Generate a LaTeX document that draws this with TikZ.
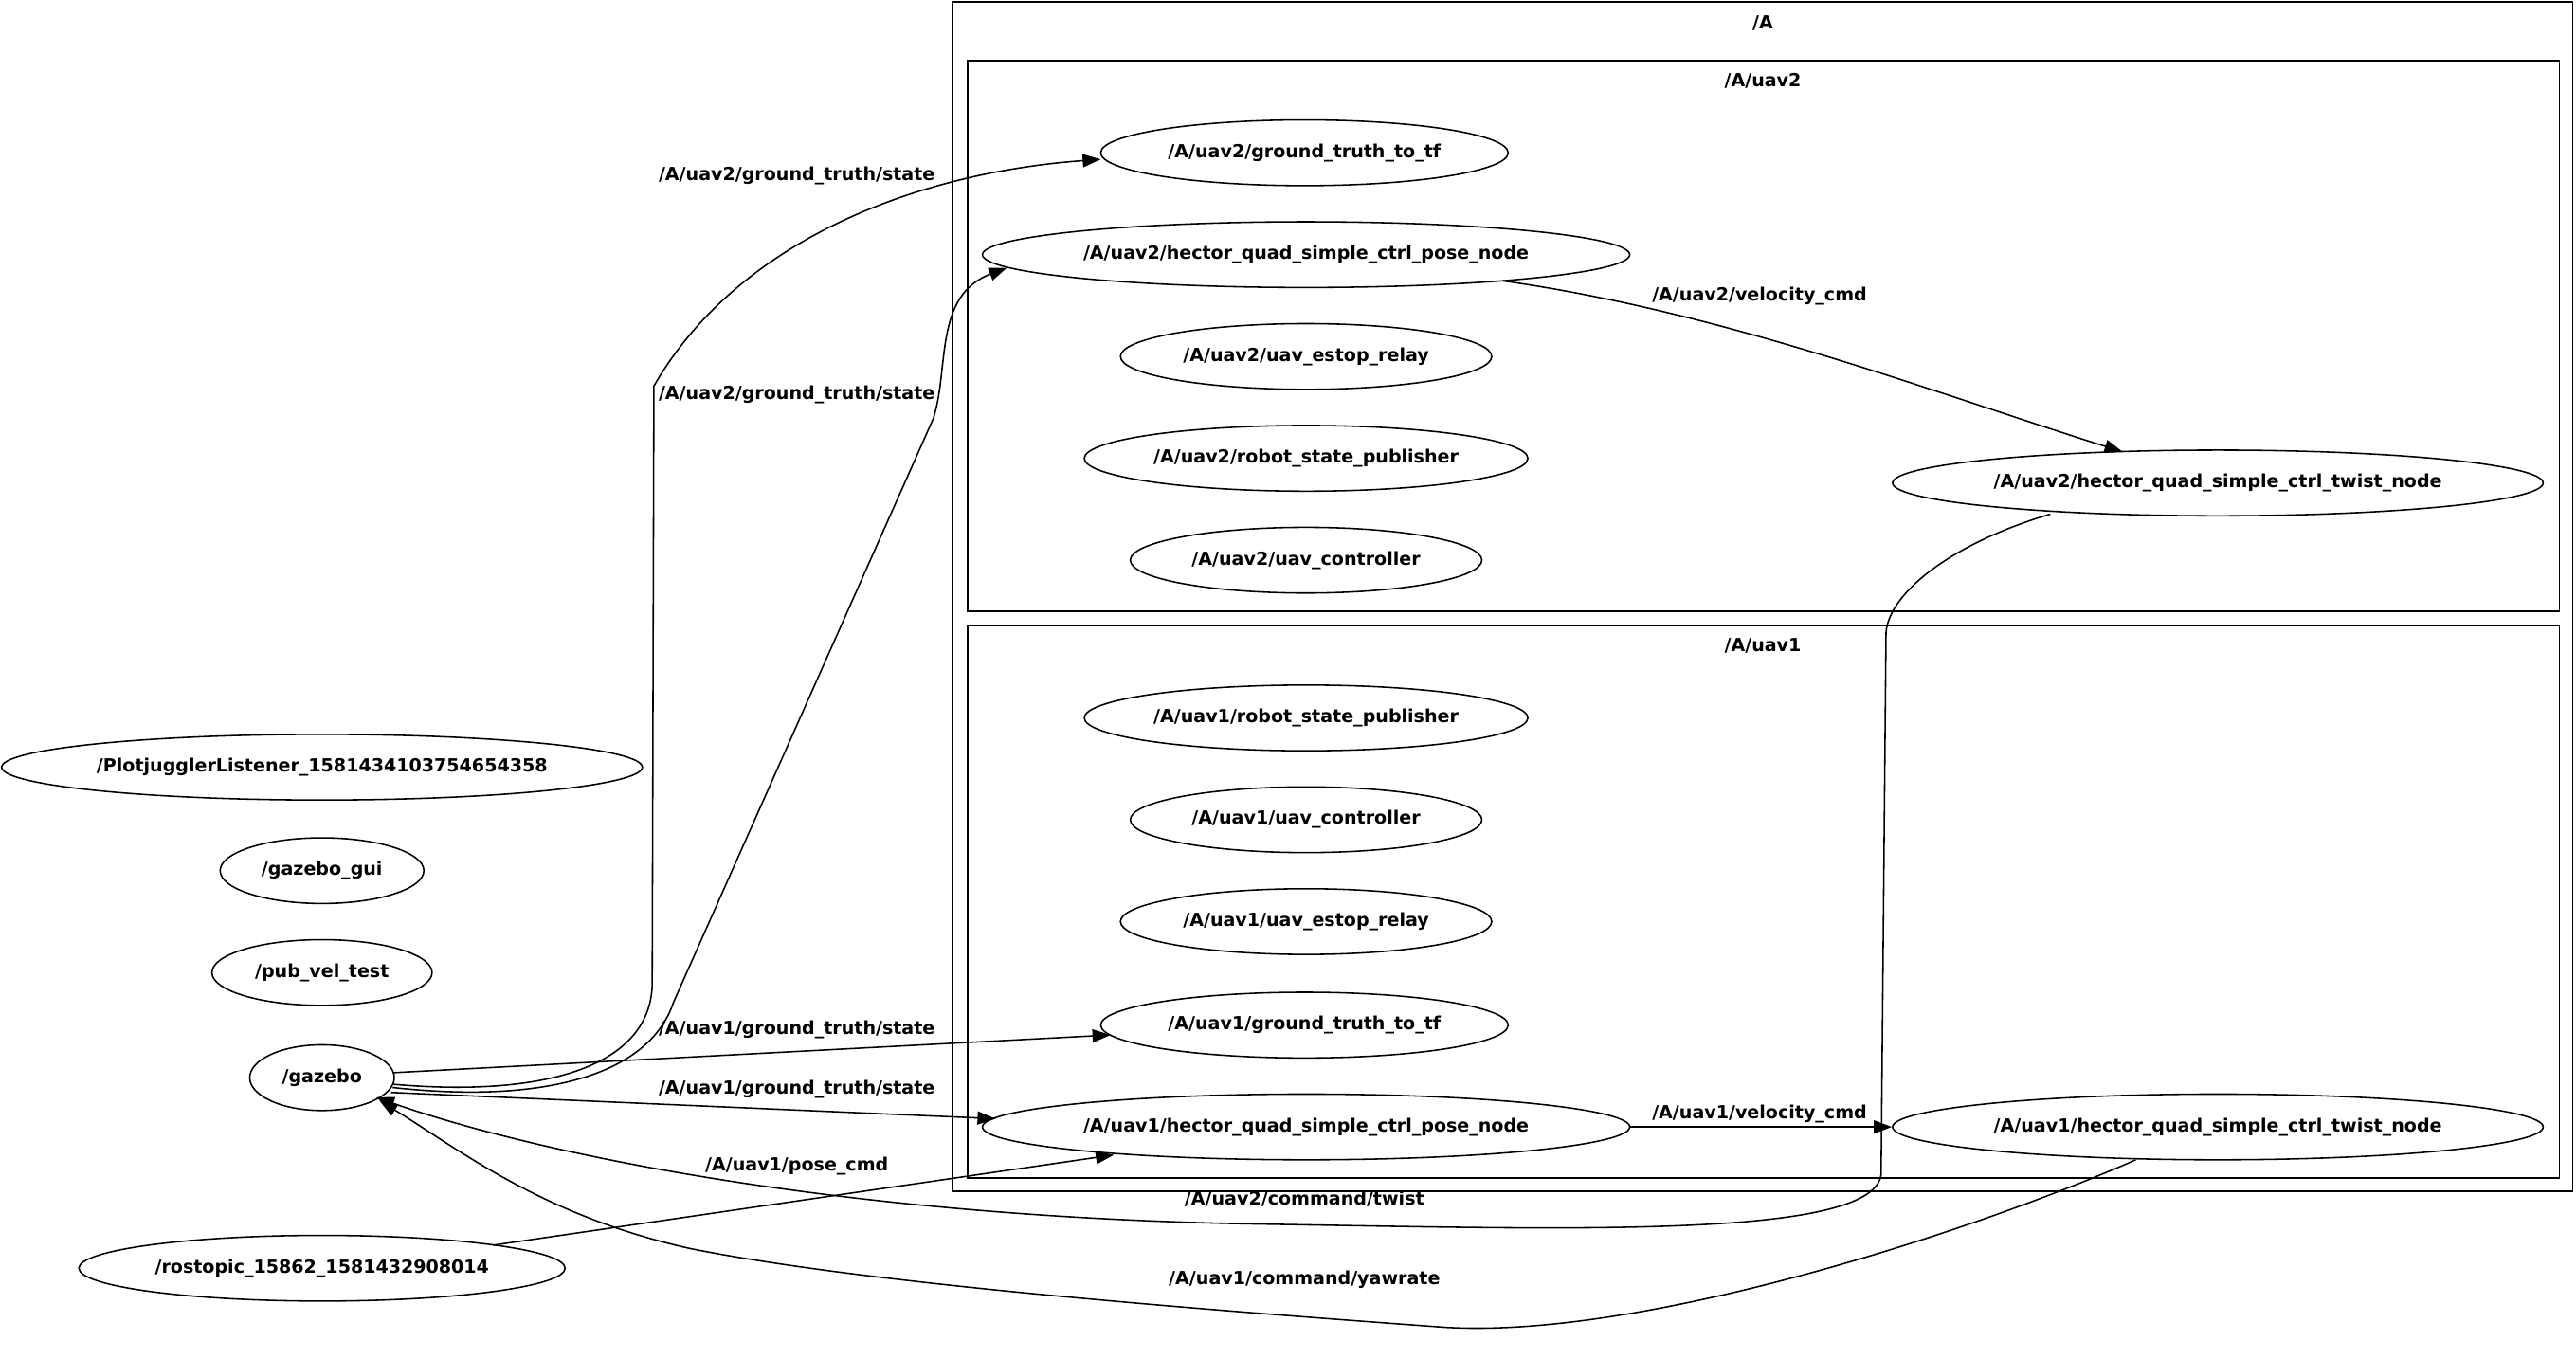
\documentclass[tikz,border=0pt]{standalone}
\usepackage{fontspec}
\setmainfont{DejaVu Sans}
\usetikzlibrary{shapes.geometric,arrows.meta,calc}
\begin{document}
\begin{tikzpicture}[x=1pt,y=-1pt,
  nd/.style={draw,ellipse,minimum height=40pt,inner sep=0pt,line width=0.9pt,font=\bfseries\fontsize{11}{12}\selectfont},
  cl/.style={draw,line width=0.9pt},
  lb/.style={font=\bfseries\fontsize{11}{12}\selectfont},
  ed/.style={-{Triangle[length=11pt,width=8pt]},line width=0.9pt}]
\useasboundingbox (0,0) rectangle (1568,827);
\draw[cl] (580,1) rectangle (1566,725);
\node[lb] (lA) at (1073,14) {/A};
\draw[cl] (589,37) rectangle (1558,372);
\node[lb] (lA2) at (1073,49) {/A/uav2};
\draw[cl] (589,381) rectangle (1558,717);
\node[lb] (lA1) at (1073,393) {/A/uav1};

\node[nd,minimum width=248pt] (g2) at (794,93) {/A/uav2/ground\_truth\_to\_tf};
\node[nd,minimum width=394pt] (p2) at (795,155) {/A/uav2/hector\_quad\_simple\_ctrl\_pose\_node};
\node[nd,minimum width=226pt] (e2) at (795,217) {/A/uav2/uav\_estop\_relay};
\node[nd,minimum width=270pt] (r2) at (795,279) {/A/uav2/robot\_state\_publisher};
\node[nd,minimum width=214pt] (c2) at (795,341) {/A/uav2/uav\_controller};
\node[nd,minimum width=396pt] (t2) at (1350,294) {/A/uav2/hector\_quad\_simple\_ctrl\_twist\_node};
\node[nd,minimum width=270pt] (r1) at (795,437) {/A/uav1/robot\_state\_publisher};
\node[nd,minimum width=214pt] (c1) at (795,499) {/A/uav1/uav\_controller};
\node[nd,minimum width=226pt] (e1) at (795,561) {/A/uav1/uav\_estop\_relay};
\node[nd,minimum width=248pt] (g1) at (794,624) {/A/uav1/ground\_truth\_to\_tf};
\node[nd,minimum width=394pt] (p1) at (795,686) {/A/uav1/hector\_quad\_simple\_ctrl\_pose\_node};
\node[nd,minimum width=396pt] (t1) at (1350,686) {/A/uav1/hector\_quad\_simple\_ctrl\_twist\_node};
\node[nd,minimum width=390pt] (pj) at (196,467) {/PlotjugglerListener\_1581434103754654358};
\node[nd,minimum width=124pt] (gg) at (196,530) {/gazebo\_gui};
\node[nd,minimum width=134pt] (pv) at (196,592) {/pub\_vel\_test};
\node[nd,minimum width=88pt] (gz) at (196,656) {/gazebo};
\node[nd,minimum width=296pt] (rt) at (196,772) {/rostopic\_15862\_1581432908014};

\draw[ed] ($(gz.center)+(43,4)$) .. controls (330,668) and (395,650) .. (397,600) -- (398,235)
  .. controls (450,145) and (560,105) .. ($(g2.center)+(-124,4)$);
\node[lb] at (485,107) {/A/uav2/ground\_truth/state};
\draw[ed] ($(gz.center)+(43,6)$) .. controls (330,672) and (395,655) .. (410,610) -- (568,255)
  .. controls (578,225) and (568,180) .. ($(p2.center)+(-182,8)$);
\node[lb] at (485,240) {/A/uav2/ground\_truth/state};
\draw[ed] ($(gz.center)+(43,-3)$) -- ($(g1.center)+(-118,6)$);
\node[lb] at (485,627) {/A/uav1/ground\_truth/state};
\draw[ed] ($(gz.center)+(42,9)$) -- ($(p1.center)+(-189,-5)$);
\node[lb] at (485,663) {/A/uav1/ground\_truth/state};
\draw[ed] ($(rt.center)+(104,-14)$) -- ($(p1.center)+(-117,17)$);
\node[lb] at (485,710) {/A/uav1/pose\_cmd};
\draw[ed] ($(p2.center)+(120,16)$) .. controls (1050,190) and (1180,240) .. ($(t2.center)+(-58,-19)$);
\node[lb] at (1071,180) {/A/uav2/velocity\_cmd};
\draw[ed] (p1.east) -- (t1.west);
\node[lb] at (1071,678) {/A/uav1/velocity\_cmd};
\draw[ed] ($(t2.center)+(-102,19)$) .. controls (1190,330) and (1150,360) .. (1148,385) -- (1145,715)
  .. controls (1140,755) and (950,748) .. (760,745) .. controls (500,740) and (320,700) .. ($(gz.center)+(33,12)$);
\node[lb] at (794,730) {/A/uav2/command/twist};
\draw[ed] ($(t1.center)+(-50,20)$) .. controls (1200,750) and (1000,815) .. (880,808)
  .. controls (700,795) and (520,780) .. (420,760) .. controls (330,740) and (280,700) .. ($(gz.center)+(35,14)$);
\node[lb] at (794,779) {/A/uav1/command/yawrate};
\end{tikzpicture}
\end{document}
